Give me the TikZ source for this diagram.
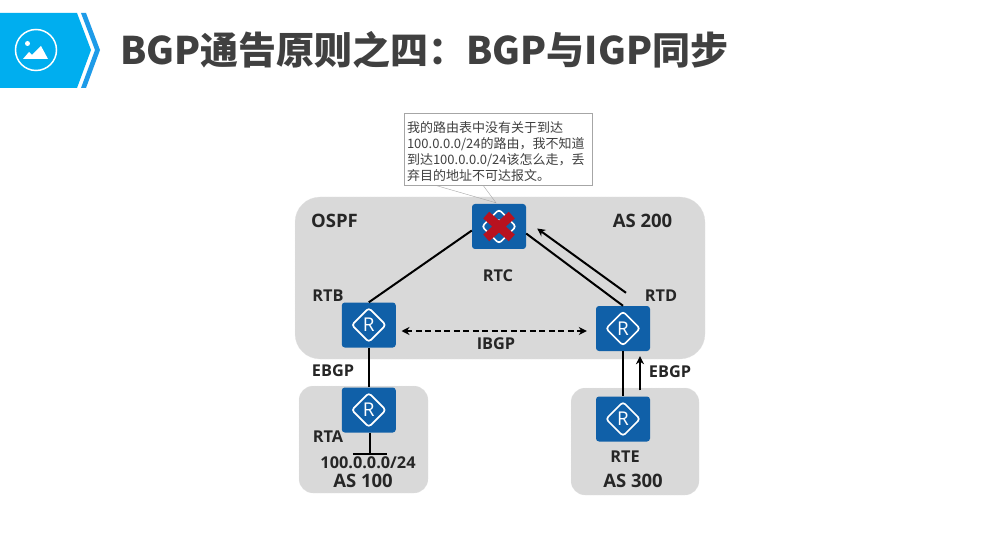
\documentclass[tikz,border=0pt]{standalone}
\usepackage{fontspec}
\setmainfont{Open Sans}
\newfontfamily\cjk{Noto Sans CJK SC}
\usepackage{tikz}
\usetikzlibrary{arrows.meta}
\definecolor{headblue}{HTML}{00AEEF}
\definecolor{chevblue}{HTML}{1E9BE8}
\definecolor{routerblue}{HTML}{1060A8}
\definecolor{panelgray}{HTML}{D9D9D9}
\definecolor{titlegray}{HTML}{404040}
\definecolor{crossred}{HTML}{B8121F}
\tikzstyle{panel} = [rectangle, fill=panelgray, draw=panelgray!90!black!40!white, densely dotted, inner sep=0pt]
\tikzstyle{router} = [rectangle, rounded corners=3pt, 
minimum width=54pt, 
minimum height=45pt, 
inner sep=0pt, 
fill=routerblue, 
text=white, 
font=\fontsize{19}{19}\selectfont,
path picture={
\draw [white, line width=1.7pt] (path picture bounding box.center) ++(-17,0) -- ++(17,-17) -- ++(17,17) -- ++(-17,17) -- cycle;
}]
\tikzstyle{label} = [font=\fontsize{16.3}{17}\selectfont\bfseries, text=black!85, inner sep=0pt]
\tikzstyle{biglabel} = [label, font=\fontsize{18.5}{19}\selectfont\bfseries]
\tikzstyle{link} = [black, line width=2pt]
\tikzstyle{arrow} = [black, line width=2pt, -{Stealth[length=8pt,width=8pt]}]

\begin{document}
\begin{tikzpicture}[x=1pt, y=-1pt]
\useasboundingbox [fill=white] (0,0) rectangle (996,540);

\fill [headblue] (0,13) -- (77,13) -- (91,50) -- (77,88) -- (0,88) -- cycle;
\fill [chevblue] (81,13) -- (86,13) -- (100,50) -- (86,88) -- (81,88) -- (95,50) -- cycle;
\node (icon) [circle, draw=white, line width=1.5pt, minimum size=41pt, inner sep=0pt] at (36,50) {};
\fill [white] (23,59) -- (29,52) -- (32,55) -- (41,46) -- (48,59) -- cycle;
\fill [white] (27.5,43.5) circle (2.5);

\node (title) [anchor=west, inner sep=0pt, text=titlegray, font=\cjk\fontsize{38}{39}\selectfont\bfseries] at (120,50) {BGP通告原则之四：BGP与IGP同步};

\node (ospf) [panel, rounded corners=25pt, minimum width=410pt, minimum height=162pt] at (500,278) {};
\node (as100) [panel, rounded corners=14pt, minimum width=129pt, minimum height=107pt] at (363.5,439.5) {};
\node (as300) [panel, rounded corners=14pt, minimum width=128pt, minimum height=107pt] at (635,441.5) {};

\node (rtc) [router] at (499,226.5) {R};
\node (rtb) [router] at (368.8,325) {R};
\node (rtd) [router] at (623,328.5) {R};
\node (rta) [router] at (368.8,410) {R};
\node (rte) [router] at (623,419) {R};

\draw [crossred, line width=9pt] ([shift={(-12.8,-11.4)}]rtc.center) -- ([shift={(12.8,11.4)}]rtc.center);
\draw [crossred, line width=9pt] ([shift={(12.8,-11.4)}]rtc.center) -- ([shift={(-12.8,11.4)}]rtc.center);

\node (note) [rectangle, draw=black!35, fill=white, inner sep=0pt, minimum width=188pt, minimum height=72pt] at (498,149) {};
\node (notetext) [inner sep=0pt, text width=184pt, align=left, text=black!75, font=\cjk\fontsize{13}{16}\selectfont] at ([shift={(1,2.5)}]note.center) {我的路由表中没有关于到达\\100.0.0.0/24的路由，我不知道\\到达100.0.0.0/24该怎么走，丢\\弃目的地址不可达报文。};
\coordinate (tailleft) at ([xshift=-63pt]note.south);
\coordinate (tailright) at ([xshift=-15pt]note.south);
\draw [black!35] (tailleft) -- ([shift={(-3,-1)}]rtc.north) -- (tailright);

\draw [link] (rtc.west) ++(0,4) -- (rtb.north);
\draw [link] (rtc.east) ++(0,7) -- (rtd.north);
\draw [link] (rtb.south) -- (rta.north);
\draw [link] (rtd.south) -- (rte.north);

\coordinate (backstart) at ([shift={(3,-13)}]rtd.north);
\coordinate (backend) at ([shift={(11,2)}]rtc.east);
\draw [arrow] (backstart) -- (backend);

\coordinate (ibgpleft) at ([shift={(5.5,6)}]rtb.east);
\coordinate (ibgpright) at ([shift={(-9,2.5)}]rtd.west);
\draw [arrow, {Stealth[length=8pt,width=8pt]}-{Stealth[length=8pt,width=8pt]}, dash pattern=on 6pt off 3.5pt] (ibgpleft) -- (ibgpright);

\coordinate (ebgpstart) at ([xshift=17pt]rte.north);
\coordinate (ebgpend) at ([shift={(17,5)}]rtd.south);
\draw [arrow] (ebgpstart) ++(0,-6) -- (ebgpend);

\coordinate (stubend) at ([shift={(1,21.5)}]rta.south);
\draw [link] (rta.south) ++(1,0) -- (stubend);
\draw [link] (stubend) ++(-17,0) -- ++(34,0);

\node (ospflabel) [biglabel] at (334.5,221) {OSPF};
\node (as200label) [biglabel] at (642.5,221) {AS 200};
\node (rtclabel) [label] at (498,276) {RTC};
\node (rtblabel) [label] at (328,296) {RTB};
\node (rtdlabel) [label] at (661,296) {RTD};
\node (ebgpleft) [label] at (333,371) {EBGP};
\node (ibgplabel) [label] at (496,344) {IBGP};
\node (ebgpright) [label] at (670,372) {EBGP};
\node (rtalabel) [label] at (328,437) {RTA};
\node (rtelabel) [label] at (625,457) {RTE};
\node (prefix) [label] at (368,463) {100.0.0.0/24};
\node (as100label) [biglabel] at (363,480.5) {AS 100};
\node (as300label) [biglabel] at (633,480.5) {AS 300};

\end{tikzpicture}
\end{document}
